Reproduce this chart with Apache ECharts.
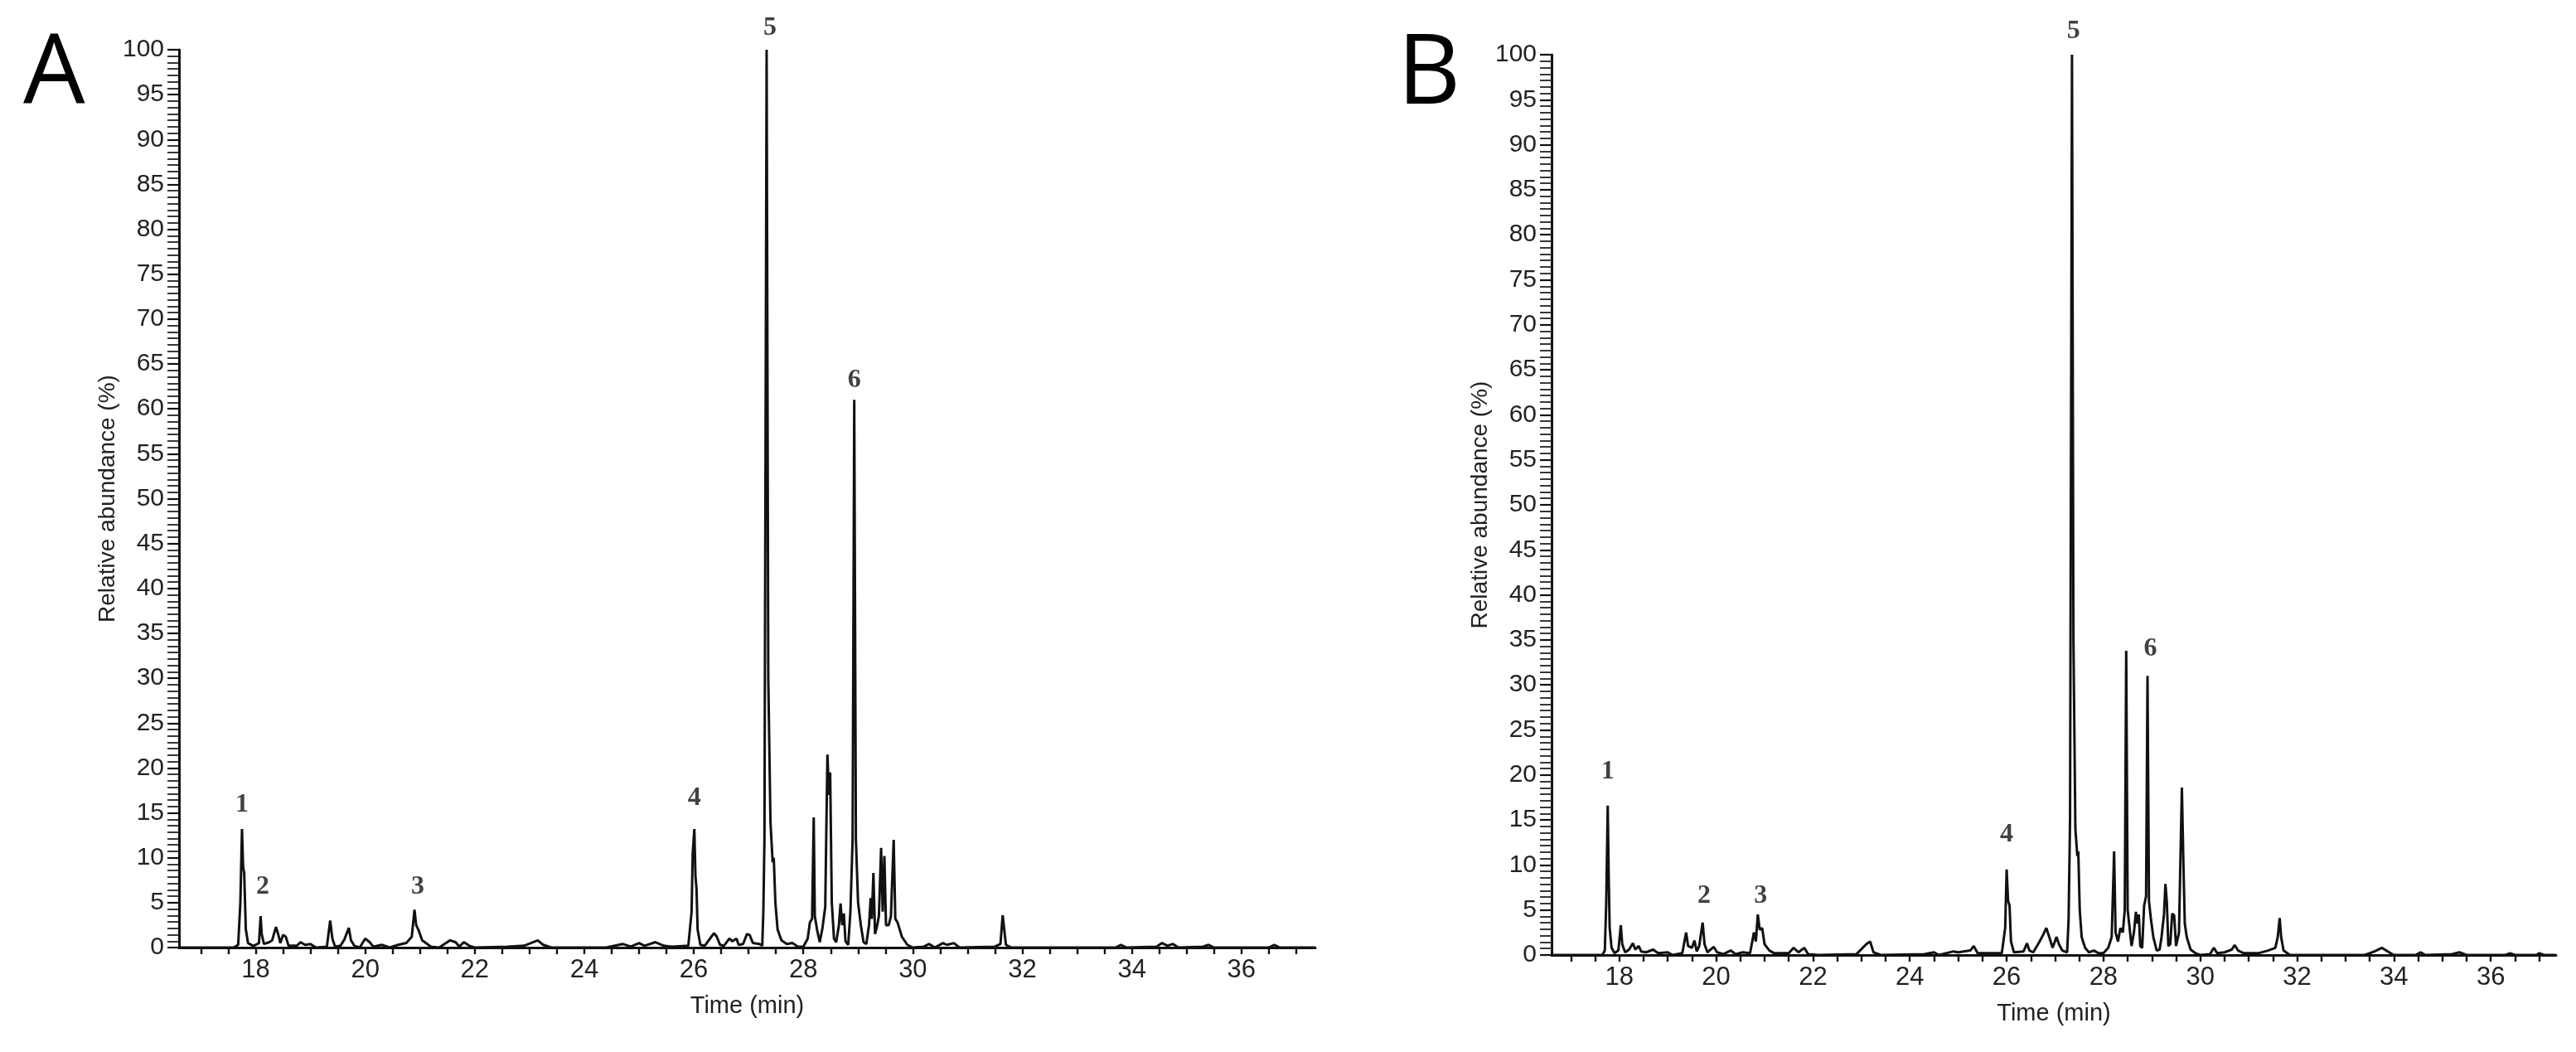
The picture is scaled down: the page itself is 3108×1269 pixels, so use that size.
<!DOCTYPE html>
<html>
<head>
<meta charset="utf-8">
<script src="https://cdn.jsdelivr.net/npm/echarts@6/dist/echarts.min.js"></script>
<style>html,body{margin:0;padding:0;background:#fff;}#c{width:3108px;height:1269px;}</style>
</head>
<body>
<div id="c"></div>
<script>
// ---- Data (retention time in min, relative abundance in %) ----
const traceA = [
[16.6,0],[17.6,0],[17.68,0.3],[17.72,5],[17.75,13.2],[17.77,9],[17.79,8.3],[17.82,2],[17.86,0.5],[17.95,0.2],[18.0,0.3],
[18.06,0.5],[18.09,3.5],[18.11,1.5],[18.15,0.4],[18.25,0.6],[18.3,0.8],[18.37,2.3],[18.41,1.5],[18.45,0.5],[18.5,1.4],[18.55,1.2],[18.6,0.2],[18.75,0.2],[18.82,0.6],[18.9,0.3],[19.0,0.4],[19.1,0.0],[19.3,0.1],[19.36,3.0],[19.4,1.0],[19.45,0.1],[19.55,0.2],[19.62,0.9],[19.7,2.2],[19.74,0.8],[19.8,0.2],[19.9,0.0],[20.0,1.0],[20.08,0.6],[20.15,0.1],[20.3,0.3],[20.45,0.0],[20.6,0.3],[20.75,0.5],[20.85,1.2],[20.9,4.2],[20.93,2.5],[20.97,2.0],[21.04,0.8],[21.2,0.1],[21.35,0.0],[21.55,0.8],[21.65,0.6],[21.72,0.1],[21.8,0.6],[21.9,0.2],[22.0,0.0],[22.6,0.1],[22.9,0.2],[23.15,0.8],[23.25,0.3],[23.4,0.0],[24.4,0.0],[24.7,0.4],[24.85,0.1],[25.0,0.5],[25.1,0.2],[25.3,0.6],[25.45,0.2],[25.6,0.1],[25.9,0.2],[25.96,4],[25.98,10.5],[26.01,13.2],[26.03,8],[26.05,6.5],[26.07,2],[26.12,0.3],[26.2,0.2],[26.32,1.2],[26.37,1.6],[26.42,1.2],[26.48,0.3],[26.55,0.2],[26.65,1.0],[26.7,0.7],[26.78,1.0],[26.82,0.3],[26.9,0.4],[26.97,1.5],[27.02,1.4],[27.08,0.5],[27.2,0.4],[27.25,0.2],[27.27,4],[27.29,12],[27.33,100],[27.36,30],[27.4,14],[27.44,9.5],[27.46,10],[27.49,5],[27.53,2],[27.6,0.8],[27.7,0.4],[27.8,0.5],[27.9,0.1],[28.0,0.1],[28.08,1.0],[28.12,2.8],[28.16,3.2],[28.19,14.5],[28.21,3.5],[28.25,2.0],[28.3,0.6],[28.35,2.2],[28.4,4.5],[28.44,21.5],[28.47,17],[28.49,19.5],[28.52,5],[28.56,1.0],[28.6,0.6],[28.65,2.5],[28.68,4.9],[28.71,2.5],[28.74,3.8],[28.77,0.7],[28.82,0.3],[28.86,4],[28.9,12],[28.93,61],[28.96,12],[29.0,5],[29.05,2.5],[29.1,0.6],[29.15,0.4],[29.2,2.5],[29.23,5.5],[29.25,3.2],[29.28,8.3],[29.31,1.5],[29.35,2.5],[29.38,3.5],[29.42,11.1],[29.45,4],[29.48,10.2],[29.51,2.5],[29.56,2.5],[29.6,3.5],[29.65,12],[29.68,3.2],[29.72,2.8],[29.8,1.2],[29.9,0.3],[30.0,0.0],[30.2,0.1],[30.3,0.4],[30.4,0.0],[30.55,0.5],[30.62,0.3],[30.75,0.5],[30.85,0.0],[31.5,0.1],[31.6,0.4],[31.64,3.6],[31.67,3.5],[31.7,0.3],[31.8,0.0],[33.7,0.0],[33.8,0.3],[33.9,0.0],[34.45,0.1],[34.55,0.5],[34.65,0.2],[34.75,0.4],[34.85,0.0],[35.3,0.1],[35.4,0.3],[35.5,0.0],[36.5,0.0],[36.6,0.3],[36.7,0.0],[37.35,0]
];
const traceB = [
[16.6,0],[17.65,0],[17.7,0.5],[17.73,6],[17.76,16.6],[17.78,9],[17.8,3],[17.84,0.8],[17.9,0.2],[17.98,0.5],[18.03,3.3],[18.06,1.2],[18.12,0.3],[18.2,0.6],[18.28,1.3],[18.33,0.6],[18.4,1.0],[18.45,0.4],[18.55,0.3],[18.7,0.6],[18.8,0.2],[19.0,0.3],[19.1,0.0],[19.3,0.2],[19.38,2.5],[19.42,1.0],[19.5,0.8],[19.55,1.6],[19.6,0.4],[19.65,1.0],[19.72,3.6],[19.76,1.2],[19.82,0.3],[19.95,0.9],[20.02,0.3],[20.15,0.1],[20.3,0.5],[20.4,0.1],[20.55,0.3],[20.7,0.2],[20.78,2.5],[20.82,1.5],[20.86,4.5],[20.9,2.8],[20.95,3.0],[21.0,1.2],[21.1,0.5],[21.2,0.2],[21.5,0.2],[21.6,0.8],[21.7,0.3],[21.82,0.8],[21.9,0.1],[22.1,0.0],[22.9,0.1],[23.1,1.2],[23.18,1.5],[23.25,0.3],[23.4,0.0],[24.3,0.1],[24.5,0.3],[24.6,0.0],[24.9,0.4],[25.0,0.3],[25.25,0.5],[25.32,1.0],[25.4,0.2],[25.9,0.2],[25.97,3],[26.0,9.5],[26.03,6],[26.06,5.5],[26.09,1.5],[26.15,0.3],[26.35,0.4],[26.42,1.3],[26.47,0.5],[26.55,0.3],[26.68,1.5],[26.75,2.2],[26.82,3.0],[26.88,2.0],[26.95,0.8],[27.03,2.0],[27.08,1.2],[27.15,0.5],[27.25,0.3],[27.28,4],[27.31,15],[27.35,100],[27.38,35],[27.42,14],[27.46,11],[27.48,11.5],[27.51,5],[27.55,2],[27.62,0.8],[27.7,0.3],[27.8,0.5],[27.9,0.2],[28.0,0.2],[28.1,0.8],[28.17,2.0],[28.22,11.5],[28.25,2.5],[28.3,1.5],[28.35,3.0],[28.4,2.5],[28.44,5],[28.47,33.8],[28.5,5],[28.54,3.0],[28.58,1.0],[28.63,2.5],[28.67,4.8],[28.7,3.5],[28.73,4.5],[28.76,1.0],[28.8,0.8],[28.84,5.5],[28.88,6.5],[28.91,31],[28.94,6.0],[28.98,4.0],[29.03,2.0],[29.1,0.5],[29.16,0.6],[29.2,2.0],[29.25,4.5],[29.28,7.9],[29.31,5.8],[29.34,1.0],[29.38,1.2],[29.42,4.6],[29.46,4.4],[29.5,1.0],[29.56,2.5],[29.62,18.6],[29.65,10.5],[29.68,3.5],[29.72,2.0],[29.8,0.6],[29.9,0.2],[30.0,0.0],[30.2,0.1],[30.28,0.8],[30.35,0.2],[30.5,0.3],[30.65,0.6],[30.71,1.1],[30.78,0.5],[30.9,0.2],[31.2,0.2],[31.4,0.5],[31.55,0.8],[31.6,2.0],[31.64,4.1],[31.67,2.0],[31.72,0.5],[31.85,0.0],[33.4,0.0],[33.6,0.4],[33.75,0.8],[33.9,0.3],[34.0,0.0],[34.45,0.0],[34.55,0.3],[34.65,0.0],[35.2,0.1],[35.35,0.3],[35.5,0.0],[36.3,0.0],[36.4,0.2],[36.5,0.0],[36.95,0.0],[37.0,0.2],[37.1,0.0],[37.35,0]
];
const peakIds = ['1','2','3','4','5','6'];
const peakTimesA = [17.75, 18.13, 20.96, 26.01, 27.39, 28.93];
const peakLabelYA = [15.9, 6.8, 6.8, 16.6, 102.4, 63.2];
const peakTimesB = [17.76, 19.75, 20.92, 26.0, 27.38, 28.97];
const peakLabelYB = [20.4, 6.6, 6.6, 13.4, 102.6, 34.0];
const xLabelValues = [18,20,22,24,26,28,30,32,34,36];
const xTickValues = [17,17.5,18,18.5,19,19.5,20,20.5,21,21.5,22,22.5,23,23.5,24,24.5,25,25.5,26,26.5,27,27.5,28,28.5,29,29.5,30,30.5,31,31.5,32,32.5,33,33.5,34,34.5,35,35.5,36,36.5,37];
const xMin = 16.6, xMax = 37.35;
const yMin = 0, yMax = 100, yStep = 5;

// ---- Chart ----
const INK = '#111';
const sansFont = 'Liberation Sans, Arial, sans-serif';
function makeX(gi){
  return {
    type:'value', gridIndex:gi, min:xMin, max:xMax,
    axisLine:{show:true, onZero:false, lineStyle:{color:INK, width:3}},
    axisTick:{show:true, customValues:xTickValues, length:8, lineStyle:{color:INK, width:2.4}},
    axisLabel:{customValues:xLabelValues, fontSize:31, color:'#222', margin:12, fontFamily:sansFont},
    splitLine:{show:false},
    name:'Time (min)', nameLocation:'middle', nameGap:56,
    nameTextStyle:{fontSize:29, color:'#222', fontFamily:sansFont}
  };
}
function makeY(gi){
  return {
    type:'value', gridIndex:gi, min:yMin, max:yMax, interval:yStep,
    axisLine:{show:true, lineStyle:{color:INK, width:3}},
    axisTick:{show:true, length:14, lineStyle:{color:INK, width:2.2}},
    minorTick:{show:true, splitNumber:7, length:14, lineStyle:{color:'#222', width:1.8}},
    axisLabel:{fontSize:30, color:'#222', margin:18, fontFamily:sansFont},
    splitLine:{show:false}, minorSplitLine:{show:false},
    name:'Relative abundance (%)', nameLocation:'middle', nameGap:72, nameRotate:90,
    nameTextStyle:{fontSize:28, color:'#222', fontFamily:sansFont}
  };
}
function traceSeries(data, gi){
  return {type:'line', xAxisIndex:gi, yAxisIndex:gi, data:data, showSymbol:false, symbol:'none',
    lineStyle:{color:INK, width:3}, sampling:null, animation:false, z:3};
}
function labelSeries(times, ys, gi){
  return {type:'scatter', xAxisIndex:gi, yAxisIndex:gi, clip:false, symbolSize:1,
    itemStyle:{color:'rgba(0,0,0,0)'}, animation:false, silent:true, z:5,
    data: times.map((t,i)=>({value:[t, ys[i]], name:peakIds[i]})),
    label:{show:true, position:'inside', formatter:p=>p.name, color:'#111',
      fontFamily:'Liberation Serif, Times New Roman, serif', fontWeight:'bold', fontSize:32}};
}
const chart = echarts.init(document.getElementById('c'), null, {renderer:'canvas'});
chart.setOption({
  backgroundColor:'#fff',
  animation:false,
  grid:[
    {left:216, right:1521, top:60, bottom:126},
    {left:1872, right:24, top:66, bottom:117}
  ],
  xAxis:[makeX(0), makeX(1)],
  yAxis:[makeY(0), makeY(1)],
  series:[
    traceSeries(traceA,0), traceSeries(traceB,1),
    labelSeries(peakTimesA, peakLabelYA, 0), labelSeries(peakTimesB, peakLabelYB, 1)
  ],
  graphic:[
    {type:'text', left:28, top:32, style:{text:'A', fontSize:118, fontFamily:'Open Sans, Lato, sans-serif', fontWeight:'normal', fill:'#000'}},
    {type:'text', left:1686, top:32, style:{text:'B', fontSize:118, fontFamily:'Open Sans, Lato, sans-serif', fontWeight:'normal', fill:'#000'}}
  ]
});
</script>
</body>
</html>
